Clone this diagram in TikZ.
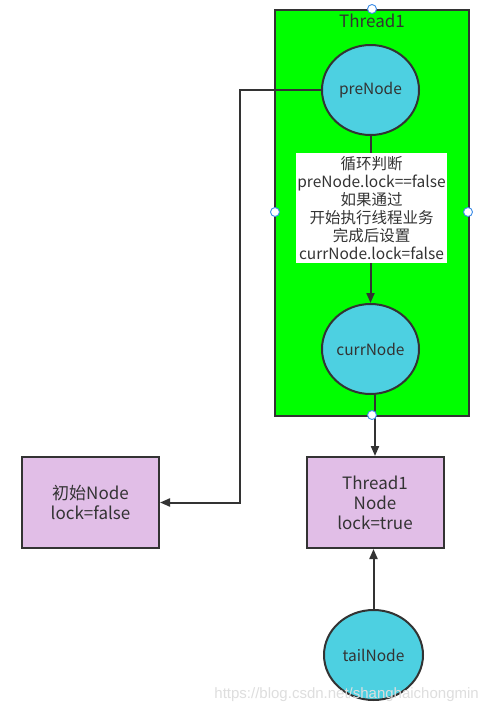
\documentclass[tikz,border=0pt]{standalone}
\usepackage{fontspec}
\setmainfont{Noto Sans CJK SC}
\newfontfamily\wmfont{Liberation Sans}
\usetikzlibrary{shapes.geometric,arrows.meta}
\definecolor{strokec}{HTML}{333333}
\definecolor{threadgreen}{HTML}{00FF00}
\definecolor{nodeblue}{HTML}{4DD0E1}
\definecolor{boxpurple}{HTML}{E1BEE7}
\definecolor{handleblue}{HTML}{3C8CE7}
\tikzset{
  base/.style={draw=strokec, line width=2pt, text=strokec, font=\fontsize{15.5}{18}\selectfont, align=center, inner sep=0pt},
  ellnode/.style={base, ellipse, fill=nodeblue, minimum width=97pt, minimum height=90pt},
  boxnode/.style={base, rectangle, fill=boxpurple, minimum width=137pt, minimum height=91pt, font=\fontsize{17}{20}\selectfont},
  conn/.style={draw=strokec, line width=2pt},
  arr/.style={conn, -{Triangle[length=10pt,width=8pt]}},
  handle/.style={circle, draw=handleblue, fill=white, line width=0.9pt, minimum size=9pt, inner sep=0pt},
}
\begin{document}
\begin{tikzpicture}[x=1pt,y=-1pt]
\useasboundingbox[fill=white] (0,0) rectangle (488,713);
% Thread container
\node[base, rectangle, fill=threadgreen, minimum width=194pt, minimum height=406pt] (thread) at (372,213) {};
\node[text=strokec, font=\fontsize{17}{20}\selectfont, anchor=center, inner sep=0pt] (title) at (372,21) {Thread1};
% nodes
\node[ellnode] (pre) at (370.5,90) {preNode};
\node[ellnode] (curr) at (370.5,349) {currNode};
\node[boxnode] (init) at (90.5,502.5) {初始Node\\lock=false};
\node[boxnode] (t1n) at (375,502.5) {Thread1\\Node\\lock=true};
\node[ellnode, minimum width=99pt] (tail) at (373.5,655) {tailNode};
% connectors
\draw[arr] (pre.south) -- (curr.north);
\node[fill=white, minimum width=151pt, minimum height=110pt, inner sep=0pt, align=center, text=strokec, font=\fontsize{15.5}{18}\selectfont] (lbl) at (371.5,208) {循环判断\\preNode.lock==false\\如果通过\\开始执行线程业务\\完成后设置\\currNode.lock=false};
\coordinate (bend) at (240,90);
\draw[arr] (pre.west) -- (bend) |- (init.east);
\draw[arr] (curr.south -| t1n.north) -- (t1n.north);
\draw[arr] (tail.north) -- (tail.north |- t1n.south);
% selection handles
\node[handle] (h1) at (372,9) {};
\node[handle] (h2) at (275,212) {};
\node[handle] (h3) at (468,212) {};
\node[handle] (h4) at (372,415) {};
% watermark
\node[text=black!13, font=\wmfont\fontsize{15}{17}\selectfont, anchor=east, inner sep=0pt] (wm) at (479,695) {https://blog.csdn.net/shanghaichongmin};
\end{tikzpicture}
\end{document}
